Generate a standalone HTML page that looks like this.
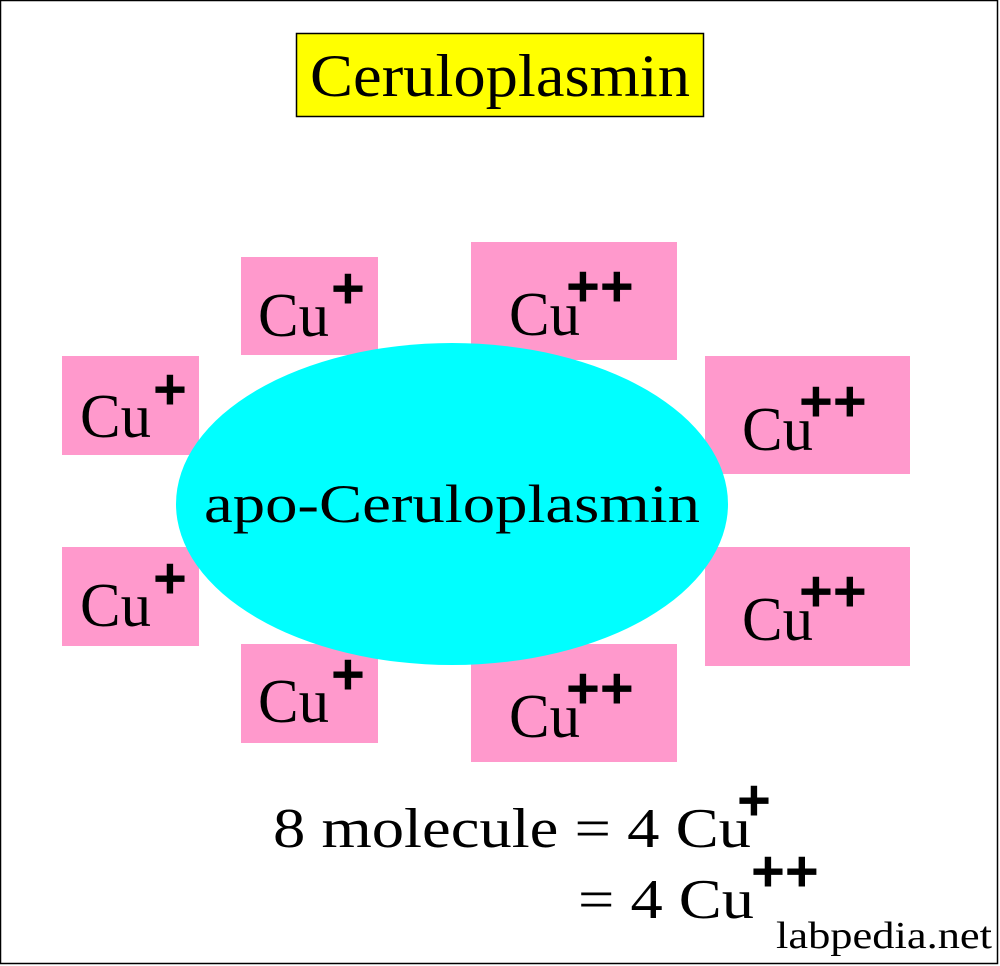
<!DOCTYPE html>
<html><head><meta charset="utf-8"><style>
html,body{margin:0;padding:0;background:#fff}
svg{display:block}
.s{font-family:"Liberation Serif","Times New Roman",Times,serif;fill:#000}
.p{font-family:"Liberation Sans",Arial,sans-serif;font-weight:bold;fill:#000}
</style></head><body>
<svg width="1000" height="966" viewBox="0 0 1000 966" xmlns="http://www.w3.org/2000/svg">
<rect x="0.5" y="0.5" width="997" height="963" fill="#fff" stroke="#000" stroke-width="1.5"/>
<rect x="296.5" y="33.5" width="407" height="83" fill="#ffff00" stroke="#000" stroke-width="1.5"/>
<text class="s" x="310" y="96" font-size="60" textLength="380" lengthAdjust="spacingAndGlyphs">Ceruloplasmin</text>

<g fill="#ff99cc">
<rect x="241" y="257" width="137" height="98"/>
<rect x="62" y="356" width="137" height="99"/>
<rect x="62" y="547" width="137" height="99"/>
<rect x="241" y="644" width="137" height="99"/>
<rect x="471" y="242" width="206" height="118"/>
<rect x="705" y="356" width="205" height="118"/>
<rect x="705" y="547" width="205" height="119"/>
<rect x="471" y="644" width="206" height="118"/>
</g>
<ellipse cx="452" cy="504" rx="276" ry="161" fill="#00ffff"/>
<text class="s" x="204" y="522" font-size="54" textLength="496" lengthAdjust="spacingAndGlyphs">apo-Ceruloplasmin</text>

<g font-size="62">
<text class="s" x="258" y="336" textLength="71" lengthAdjust="spacingAndGlyphs">Cu</text><text class="p" x="331" y="308" font-size="58">+</text>
<text class="s" x="80" y="437" textLength="71" lengthAdjust="spacingAndGlyphs">Cu</text><text class="p" x="153" y="409" font-size="58">+</text>
<text class="s" x="80" y="626" textLength="71" lengthAdjust="spacingAndGlyphs">Cu</text><text class="p" x="153" y="598" font-size="58">+</text>
<text class="s" x="258" y="722" textLength="71" lengthAdjust="spacingAndGlyphs">Cu</text><text class="p" x="331" y="694" font-size="58">+</text>
<text class="s" x="509" y="335" textLength="71" lengthAdjust="spacingAndGlyphs">Cu</text><text class="p" x="566" y="306" font-size="58">++</text>
<text class="s" x="742" y="450" textLength="71" lengthAdjust="spacingAndGlyphs">Cu</text><text class="p" x="799" y="421" font-size="58">++</text>
<text class="s" x="742" y="640" textLength="71" lengthAdjust="spacingAndGlyphs">Cu</text><text class="p" x="799" y="611" font-size="58">++</text>
<text class="s" x="509" y="737" textLength="71" lengthAdjust="spacingAndGlyphs">Cu</text><text class="p" x="566" y="708" font-size="58">++</text>
</g>

<text class="s" x="273" y="847" font-size="56" textLength="478" lengthAdjust="spacingAndGlyphs">8 molecule = 4 Cu</text>
<text class="p" x="737" y="820" font-size="58">+</text>
<text class="s" x="578" y="918" font-size="56" textLength="176" lengthAdjust="spacingAndGlyphs">= 4 Cu</text>
<text class="p" x="751" y="891" font-size="58">++</text>
<text class="s" x="776" y="948" font-size="38" textLength="216" lengthAdjust="spacingAndGlyphs">labpedia.net</text>
</svg>
</body></html>
